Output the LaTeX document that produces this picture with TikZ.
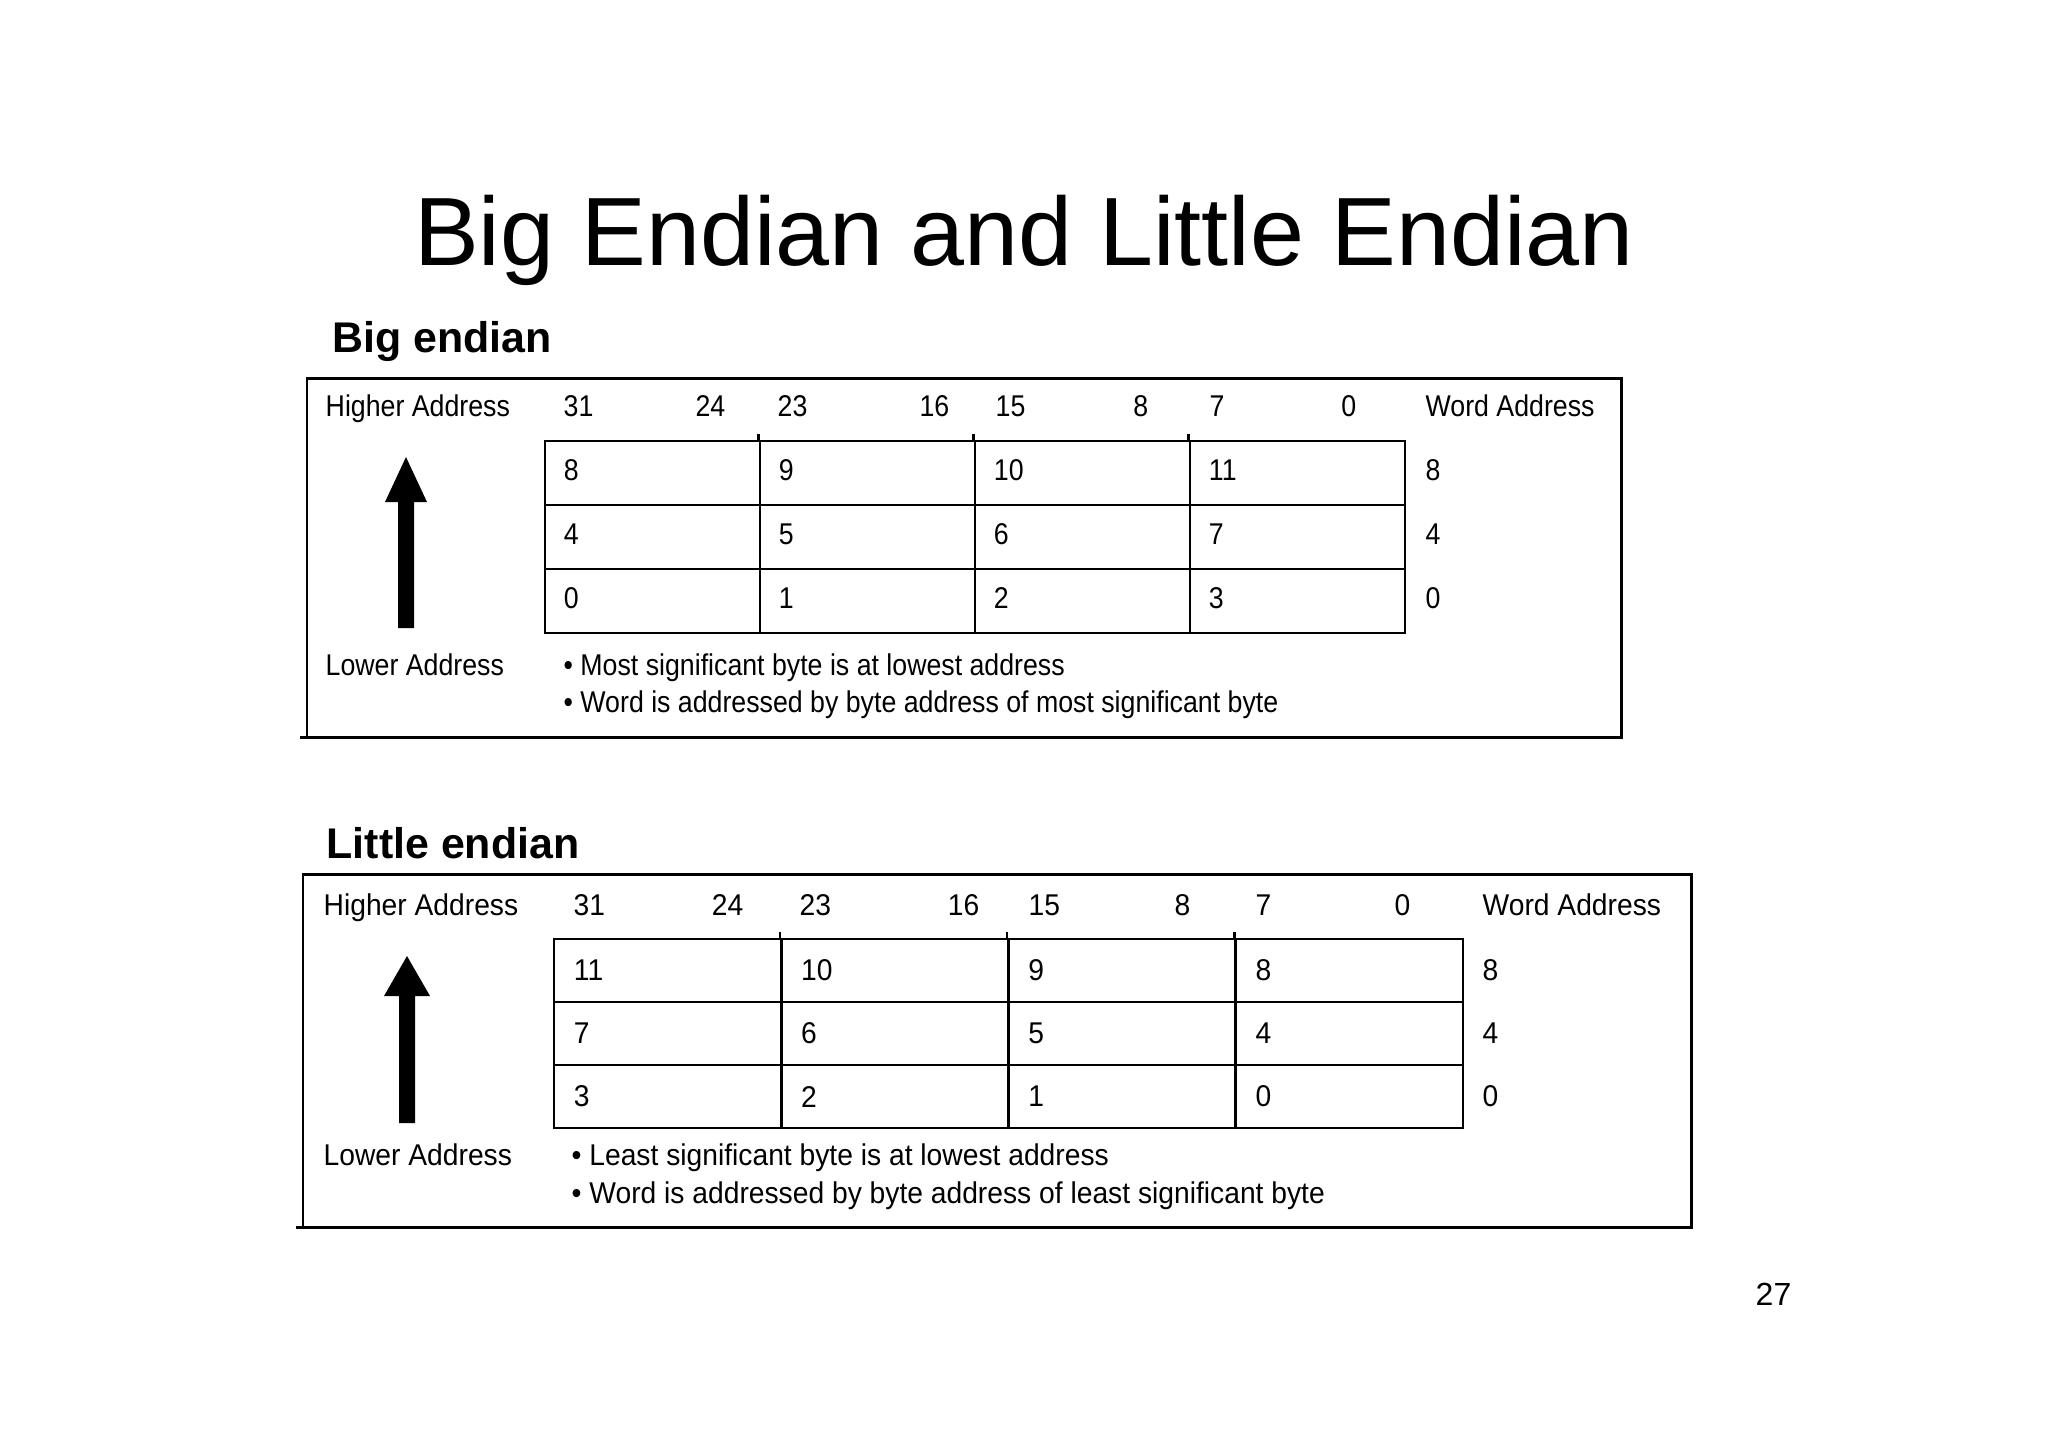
\documentclass[tikz,border=0pt]{standalone}
\usepackage{fontspec}
\setmainfont{Liberation Sans}
\newfontfamily\nfA[FakeStretch=0.89]{Liberation Sans}
\newfontfamily\nfB[FakeStretch=0.94]{Liberation Sans}
\tikzset{
  ttl/.style={font=\fontsize{27.6pt}{30pt}\selectfont, anchor=base, inner sep=0},
  hdg/.style={font=\bfseries\fontsize{12.2pt}{14pt}\selectfont, anchor=base west, inner sep=0},
  txA/.style={inner sep=0, font=\nfA\fontsize{8.54pt}{10pt}\selectfont},
  txB/.style={inner sep=0, font=\nfB\fontsize{8.54pt}{10pt}\selectfont},
  frm/.style={line width=0.85pt},
  cellA/.style={txA, draw, line width=0.75pt, minimum width=2.15cm, minimum height=0.64cm,
    inner xsep=0.19cm, text width=1.77cm, align=left, text depth=0.06cm},
  cellB/.style={txB, draw, line width=0.75pt, minimum width=2.2725cm, minimum height=0.63cm,
    inner xsep=0.20cm, text width=1.8725cm, align=left},
  tick/.style={line width=0.75pt},
}
\begin{document}
\begin{tikzpicture}[x=0.01cm, y=-0.01cm]
\useasboundingbox (0,0) rectangle (2048,1447);

% title
\node[ttl] (title) at (1024,265) {Big Endian and Little Endian};

% ---------------- Big endian ----------------
\node[hdg] (hbig) at (332,352) {Big endian};
\draw[frm] (307,378) rectangle (1621,737);
\draw[frm] (300,737) -- (307,737);

\node[txA, anchor=base west] (bHi) at (325,416) {Higher Address};
\node[txA, anchor=base west] (b31) at (563,416) {31};
\node[txA, anchor=base east] (b24) at (726,416) {24};
\node[txA, anchor=base west] (b23) at (777,416) {23};
\node[txA, anchor=base east] (b16) at (950,416) {16};
\node[txA, anchor=base west] (b15) at (995,416) {15};
\node[txA, anchor=base east] (b8)  at (1149,416) {8};
\node[txA, anchor=base west] (b7)  at (1209,416) {7};
\node[txA, anchor=base east] (b0)  at (1357,416) {0};
\node[txA, anchor=base west] (bWA) at (1425,416) {Word Address};

\foreach \r/\a/\b/\c/\d/\w in {1/8/9/10/11/8, 2/4/5/6/7/4, 3/0/1/2/3/0}{
  \pgfmathsetmacro{\yc}{441+64*(\r-1)+32}
  \node[cellA] (bA-\r-1) at (652.5,\yc) {\a};
  \node[cellA] (bA-\r-2) at (867.5,\yc) {\b};
  \node[cellA] (bA-\r-3) at (1082.5,\yc) {\c};
  \node[cellA] (bA-\r-4) at (1297.5,\yc) {\d};
  \node[txA, anchor=west, yshift=0.03cm] (bW-\r) at (1425,\yc) {\w};
}
\foreach \c in {2,3,4}{
  \draw[tick] (bA-1-\c.north west) -- ++(0,-6);
}

\fill (398,628) -- (398,502) -- (385,502) -- (406,457) -- (427,502)
      -- (414,502) -- (414,628) -- cycle;

\node[txA, anchor=base west] (bLo) at (325,675) {Lower Address};
\node[txA, anchor=base west] (bN1) at (563,675) {\textbullet\ Most significant byte is at lowest address};
\node[txA, anchor=base west] (bN2) at (563,712) {\textbullet\ Word is addressed by byte address of most significant byte};

% ---------------- Little endian ----------------
\node[hdg] (hlit) at (326,858) {Little endian};
\draw[frm] (303,874) rectangle (1691,1227);
\draw[frm] (296,1227) -- (303,1227);

\node[txB, anchor=base west] (lHi) at (323,915) {Higher Address};
\node[txB, anchor=base west] (l31) at (573,915) {31};
\node[txB, anchor=base east] (l24) at (744,915) {24};
\node[txB, anchor=base west] (l23) at (799,915) {23};
\node[txB, anchor=base east] (l16) at (980,915) {16};
\node[txB, anchor=base west] (l15) at (1028,915) {15};
\node[txB, anchor=base east] (l8)  at (1191,915) {8};
\node[txB, anchor=base west] (l7)  at (1255,915) {7};
\node[txB, anchor=base east] (l0)  at (1411,915) {0};
\node[txB, anchor=base west] (lWA) at (1482,915) {Word Address};

\foreach \r/\a/\b/\c/\d/\w in {1/11/10/9/8/8, 2/7/6/5/4/4, 3/3/2/1/0/0}{
  \pgfmathsetmacro{\yc}{939+63*(\r-1)+31.5}
  \node[cellB] (lA-\r-1) at (667.6,\yc) {\a};
  \node[cellB] (lA-\r-2) at (894.9,\yc) {\b};
  \node[cellB] (lA-\r-3) at (1122.1,\yc) {\c};
  \node[cellB] (lA-\r-4) at (1349.4,\yc) {\d};
  \node[txB, anchor=west] (lW-\r) at (1482,\yc) {\w};
}
\foreach \c in {2,3,4}{
  \draw[tick] (lA-1-\c.north west) -- ++(0,-6);
}

\fill (399,1123) -- (399,996) -- (384,996) -- (407,956) -- (430,996)
      -- (415,996) -- (415,1123) -- cycle;

\node[txB, anchor=base west] (lLo) at (323,1165) {Lower Address};
\node[txB, anchor=base west] (lN1) at (571,1165) {\textbullet\ Least significant byte is at lowest address};
\node[txB, anchor=base west] (lN2) at (571,1203) {\textbullet\ Word is addressed by byte address of least significant byte};

% page number
\node[inner sep=0, anchor=base east, font=\fontsize{9.1pt}{11pt}\selectfont] (pg) at (1792,1305) {27};
\end{tikzpicture}
\end{document}
